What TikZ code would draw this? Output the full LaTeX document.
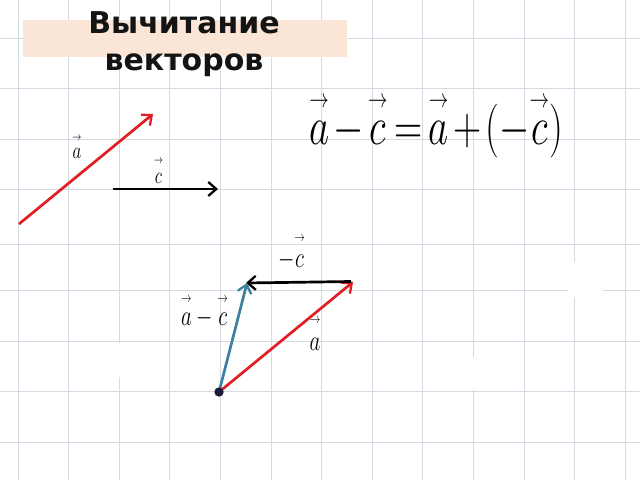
\RequirePackage{fix-cm}
\documentclass[tikz,border=0pt]{standalone}
\usepackage{amsmath}
\usepackage{fontspec}
\newfontfamily\titlefont{DejaVu Sans}
\usetikzlibrary{arrows.meta}
\definecolor{gridc}{HTML}{D3DAE1}
\definecolor{peach}{HTML}{FBE5D6}
\definecolor{vred}{HTML}{E01E24}
\definecolor{vblue}{HTML}{3C82A0}
\definecolor{dotc}{HTML}{1B1B3A}
\newcommand\vup[2]{\overset{\raisebox{#1}{$\scriptscriptstyle\rightarrow$}}{#2}}
\newcommand\stretchy[1]{\scalebox{1}[1.38]{#1}}
\tikzset{
  gridline/.style={draw=gridc, line width=0.9pt},
  vecline/.style={line width=2.7pt, -{Straight Barb[length=8pt,width=14pt,line width=2.3pt]}},
  lbl/.style={inner sep=0pt, anchor=base},
  lblsmall/.style={lbl, font=\fontsize{17}{18}\selectfont},
  lblmid/.style={lbl, font=\fontsize{21}{22}\selectfont},
  lblbig/.style={lbl, font=\fontsize{39}{40}\selectfont},
  titletext/.style={inner sep=0pt, anchor=base, font=\titlefont\bfseries\fontsize{30}{36}\selectfont, text=black!92},
}
\begin{document}
\begin{tikzpicture}[x=1pt,y=-1pt]
\useasboundingbox (0,0) rectangle (640,480);
\fill[white] (0,0) rectangle (640,480);
% grid
\foreach \i in {0,...,12} \draw[gridline] ({18+50.6*\i},0) -- ({18+50.6*\i},480);
\foreach \y in {38,88.5,139,189.5,244,290.5,341,391.5,442} \draw[gridline] (0,\y) -- (640,\y);
% white patches over the grid
\fill[white] (568,262) rectangle (603,297);
\fill[white] (470,357) rectangle (478,390);
\fill[white] (114,343) rectangle (122,377);
% title
\fill[peach] (23,20) rectangle (347,57);
\node[titletext] (title1) at (184,33) {Вычитание};
\node[titletext] (title2) at (184,70) {векторов};
% formula
\node[lblbig] (formula) at (436,144) {\stretchy{$\medmuskip=2mu\thickmuskip=3mu
  \vup{0.12em}{a}-\vup{0.12em}{c}=\vup{0.12em}{a}+(-\vup{0.12em}{c})$}};
% upper vectors
\coordinate (a1) at (19,224);
\coordinate (a2) at (153,114);
\coordinate (c1) at (113,189);
\coordinate (c2) at (218,189);
\draw[vecline, vred] (a1) -- (a2);
\draw[vecline, black] (c1) -- (c2);
\node[lblsmall] (la) at (77,158) {\stretchy{$\vup{0.1em}{a}$}};
\node[lblsmall] (lc) at (158.5,183) {\stretchy{$\vup{0.18em}{c}$}};
% lower construction
\node[circle, fill=dotc, inner sep=0pt, minimum size=9pt] (O) at (219,392) {};
\coordinate (P) at (353,282);
\coordinate (Q) at (246,283);
\coordinate (Ps) at (351,281.5);
\coordinate (R) at (247,283);
\draw[vecline, vred] (O.center) -- (P);
\draw[vecline, black] (Ps) -- (Q);
\draw[vecline, vblue] (O.center) -- (R);
\node[lblmid] (lmc) at (291.5,267) {\stretchy{$-\vup{0.25em}{c}$}};
\node[lblmid] (lamc) at (204.5,325) {\stretchy{$\vup{0.15em}{a}-\vup{0.15em}{c}$}};
\node[lblmid] (la2) at (315,350) {\stretchy{$\vup{0.3em}{a}$}};
\fill[dotc] (O.center) circle (4.5pt);
\end{tikzpicture}
\end{document}
